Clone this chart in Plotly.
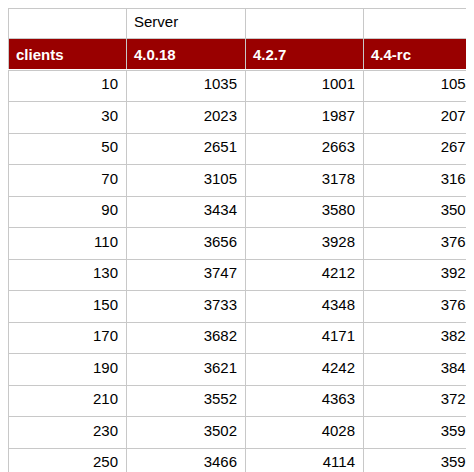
import plotly.graph_objects as go

clients = [10, 30, 50, 70, 90, 110, 130, 150, 170, 190, 210, 230, 250]
v4018 = [1035, 2023, 2651, 3105, 3434, 3656, 3747, 3733, 3682, 3621, 3552, 3502, 3466]
v427 = [1001, 1987, 2663, 3178, 3580, 3928, 4212, 4348, 4171, 4242, 4363, 4028, 4114]
v44rc = [1054, 2075, 2678, 3160, 3507, 3765, 3929, 3766, 3824, 3847, 3726, 3591, 3591]
top_row = ["", "Server", "", ""]
head_row = ["clients", "4.0.18", "4.2.7", "4.4-rc"]

red = "#990000"
grid = dict(color="#c8c8c8", width=1)
font = "Liberation Sans, Arial"
widths = [118, 119, 118, 119]
split = 410 / 472

cols = [clients, v4018, v427, v44rc]

fig = go.Figure()
# top two rows: "Server" label and red header band
fig.add_trace(go.Table(
    domain=dict(x=[0, 1], y=[split, 1]),
    columnwidth=widths,
    header=dict(values=top_row, fill_color="white", align="left", line=grid,
                font=dict(family=font, size=15, color="black"), height=30),
    cells=dict(values=[["<b>%s</b>" % h] for h in head_row], fill_color=red,
               align="left", line=grid,
               font=dict(family=font, size=15, color="white"), height=32),
))
# data rows (first data row used as header so there is no extra header band)
fig.add_trace(go.Table(
    domain=dict(x=[0, 1], y=[0, split]),
    columnwidth=widths,
    header=dict(values=[str(c[0]) for c in cols], fill_color="white",
                align="right", line=grid,
                font=dict(family=font, size=15, color="black"), height=31.5),
    cells=dict(values=[[str(v) for v in c[1:]] for c in cols], fill_color="white",
               align="right", line=grid,
               font=dict(family=font, size=15, color="black"), height=31.5),
))
fig.update_layout(width=474, height=472, margin=dict(l=0, r=0, t=0, b=0),
                  paper_bgcolor="white")
fig.write_html("out.html")
